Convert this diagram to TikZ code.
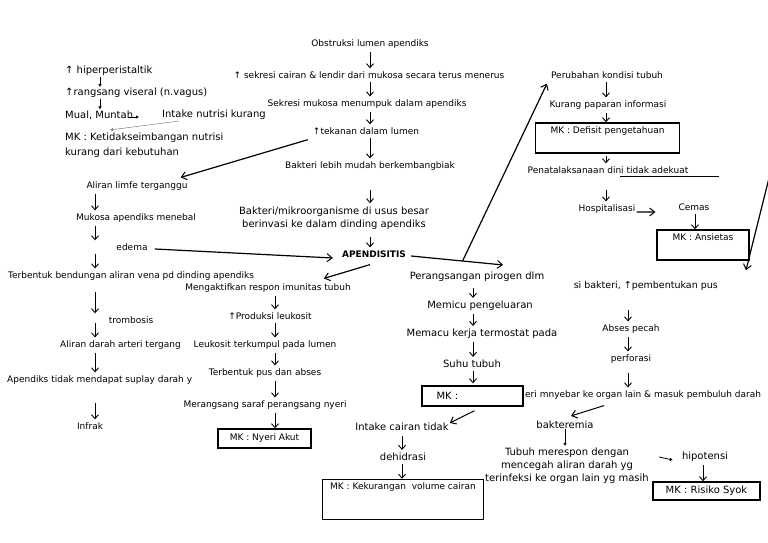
\documentclass[tikz,border=0pt]{standalone}
\usepackage{fontspec}
\setmainfont{DejaVu Sans}
\usetikzlibrary{arrows.meta}
\begin{document}
\begin{tikzpicture}[x=1bp,y=-1bp,
  txt/.style={inner sep=1bp, font=\fontsize{9bp}{13.5bp}\selectfont, align=center},
  big/.style={txt, font=\fontsize{10bp}{14bp}\selectfont},
  varr/.style={line width=0.9bp, shorten <=2bp, shorten >=2bp, -{Straight Barb[length=4bp,width=7bp,line width=0.9bp]}},
  sarr/.style={line width=0.5bp, -{Latex[length=3bp,width=3.5bp]}},
  larr/.style={line width=1.2bp, -{Straight Barb[length=5bp,width=8bp,line width=1bp]}},
  plain/.style={line width=1.2bp},
  mkbox/.style={draw, line width=1.4bp, inner sep=0pt, fill=white},
  lbl/.style={txt, anchor=north},
]
\fill[white] (0,0) rectangle (768,543);
\useasboundingbox (0,0) rectangle (768,543);

% arrow columns
\coordinate (cC) at (370,0);
\coordinate (cL) at (95,0);
\coordinate (cN) at (100,0);
\coordinate (cM) at (275,0);
\coordinate (cP) at (473,0);
\coordinate (cR) at (606,0);
\coordinate (cS) at (628,0);
\coordinate (cD) at (402,0);
\coordinate (cA) at (695,0);
\coordinate (cH) at (703,0);
\coordinate (cB) at (565,0);

% central column
\node[txt] (obs) at (370,44) {Obstruksi lumen apendiks};
\node[txt] (sek) at (369,75) {↑ sekresi cairan \& lendir dari mukosa secara terus menerus};
\node[txt] (sekm) at (367,104) {Sekresi mukosa menumpuk dalam apendiks};
\node[txt] (tek) at (366,131) {↑tekanan dalam lumen};
\node[txt] (bak) at (370,166) {Bakteri lebih mudah berkembangbiak};
\node[big, font=\fontsize{10bp}{13.5bp}\selectfont] (bakm) at (334,218) {Bakteri/mikroorganisme di usus besar\\berinvasi ke dalam dinding apendiks};
\node[txt, font=\fontsize{9bp}{13.5bp}\selectfont\bfseries] (ape) at (374,254) {APENDISITIS};

% upper left
\node[big, anchor=west] (hip) at (64,71) {↑ hiperperistaltik};
\node[big, anchor=west] (rang) at (64,93) {↑rangsang viseral (n.vagus)};
\node[big, anchor=west] (mual) at (64,115) {Mual, Muntah};
\node[big, anchor=west] (intn) at (161,115) {Intake nutrisi kurang};
\node[big, anchor=west, align=left, font=\fontsize{10bp}{15bp}\selectfont] (mkn) at (64,145.5) {MK : Ketidakseimbangan nutrisi\\kurang dari kebutuhan};

% left column
\node[txt] (limfe) at (137,186) {Aliran limfe terganggu};
\node[txt] (muk) at (136,218) {Mukosa apendiks menebal};
\node[txt] (edema) at (132,247) {edema};
\node[txt] (bend) at (131,276) {Terbentuk bendungan aliran vena pd dinding apendiks};
\node[txt] (trom) at (131,320) {trombosis};
\node[txt, anchor=west] (alir) at (59,345) {Aliran darah arteri tergang};
\node[txt, anchor=west] (apen) at (6,380) {Apendiks tidak mendapat suplay darah y};
\node[txt] (inf) at (90,426) {Infrak};

% middle column
\node[txt] (meng) at (268,288) {Mengaktifkan respon imunitas tubuh};
\node[txt] (prod) at (270,316) {↑Produksi leukosit};
\node[txt] (leuk) at (265,345) {Leukosit terkumpul pada lumen};
\node[txt] (pus) at (265,373) {Terbentuk pus dan abses};
\node[txt] (mer) at (265,405) {Merangsang saraf perangsang nyeri};
\node[mkbox, minimum width=93bp, minimum height=19bp, txt] (nyeri) at (264.5,438.5) {MK : Nyeri Akut};

% pirogen column
\node[big] (pir) at (477,277) {Perangsangan pirogen dlm};
\node[big] (memi) at (480,306) {Memicu pengeluaran};
\node[big] (memacu) at (482,334) {Memacu kerja termostat pada};
\node[big] (suhu) at (472,364) {Suhu tubuh};
\node[txt, anchor=west] (bakter) at (524,395) {eri mnyebar ke organ lain \& masuk pembuluh darah};
\node[mkbox, minimum width=101bp, minimum height=20bp,
  label={[big, anchor=west, xshift=14bp]west:MK :}] (mkb) at (472.5,396) {};
\node[big] (intc) at (402,427) {Intake cairan tidak};
\node[big] (dehid) at (403,457) {dehidrasi};
\node[mkbox, minimum width=161bp, minimum height=40bp,
  label={[lbl, yshift=-3bp]north:MK : Kekurangan\ \ volume cairan}] (kek) at (403,499.5) {};

% right column
\node[txt] (perub) at (607,75) {Perubahan kondisi tubuh};
\node[txt] (kur) at (608,105) {Kurang paparan informasi};
\node[mkbox, minimum width=144bp, minimum height=30bp,
  label={[lbl, yshift=-3bp]north:MK : Defisit pengetahuan}] (defb) at (607.5,138) {};
\node[txt] (pena) at (608,170) {Penatalaksanaan dini tidak adekuat};
\node[txt] (hosp) at (607,209) {Hospitalisasi};
\node[txt] (cemas) at (694,207) {Cemas};
\node[mkbox, minimum width=92bp, minimum height=30bp,
  label={[lbl, yshift=-3bp]north:MK : Ansietas}] (ansb) at (703,245) {};
\node[txt, font=\fontsize{9.5bp}{13.5bp}\selectfont, anchor=east] (pus2) at (719,286) {si bakteri, ↑pembentukan pus};
\node[txt] (abses) at (631,329) {Abses pecah};
\node[txt] (perf) at (631,359) {perforasi};
\node[big] (bakrem) at (565,425) {bakteremia};
\node[txt, font=\fontsize{10bp}{13bp}\selectfont] (tubuh) at (567,466) {Tubuh merespon dengan\\mencegah aliran darah yg\\terinfeksi ke organ lain yg masih};
\node[big] (hipo) at (705,457) {hipotensi};
\node[mkbox, minimum width=107bp, minimum height=18bp, big] (risb) at (706.5,491) {MK : Risiko Syok};
\coordinate (rtop) at (770,174);

% central arrows
\draw[varr] (obs.south -| cC) -- (sek.north -| cC);
\draw[varr] (sek.south -| cC) -- (sekm.north -| cC);
\draw[varr] (sekm.south -| cC) -- (tek.north -| cC);
\draw[varr] (tek.south -| cC) -- (bak.north -| cC);
\draw[varr, shorten <=18bp] (bak.south -| cC) -- (bakm.north -| cC);
\draw[varr, shorten <=6bp] (bakm.south -| cC) -- (ape.north -| cC);

% upper left arrows
\draw[sarr] (hip.south -| cN) -- (rang.north -| cN);
\draw[sarr] (rang.south -| cN) -- (mual.north -| cN);
\draw[sarr] ([xshift=-6bp,yshift=-2bp]mual.east) -- ([xshift=-22bp,yshift=-2bp]intn.west);
\draw[sarr, gray] ([xshift=18bp]intn.south west) -- ([xshift=46bp,yshift=2bp]mkn.north west);

% left column arrows
\draw[larr] ([xshift=-4bp,yshift=-4bp]tek.south west) -- ([xshift=-8bp,yshift=3bp]limfe.north east);
\draw[varr] (limfe.south -| cL) -- (muk.north -| cL);
\draw[varr] (muk.south -| cL) -- (edema.north -| cL);
\draw[varr] (edema.south -| cL) -- (bend.north -| cL);
\draw[varr, shorten <=10bp] (bend.south -| cL) -- (trom.north -| cL);
\draw[varr, shorten <=-2bp] (trom.south -| cL) -- (alir.north -| cL);
\draw[varr] (alir.south -| cL) -- (apen.north -| cL);
\draw[varr, shorten <=17bp] (apen.south -| cL) -- (inf.north -| cL);

% links from/to APENDISITIS
\draw[larr] ([xshift=6bp,yshift=-2bp]edema.east) -- ([xshift=-8bp,yshift=-4bp]ape.west);
\draw[larr] ([xshift=-4bp,yshift=-6bp]ape.south) -- ([xshift=-28bp,yshift=4bp]meng.north east);
\draw[larr] ([xshift=4bp,yshift=-2bp]ape.east) -- coordinate[pos=0.56] (jn) ([xshift=26bp,yshift=6bp]pir.north);
\draw[larr] (jn) -- ([xshift=-3bp,yshift=-4bp]perub.south west);

% middle column arrows
\draw[varr] (meng.south -| cM) -- (prod.north -| cM);
\draw[varr] (prod.south -| cM) -- (leuk.north -| cM);
\draw[varr] (leuk.south -| cM) -- (pus.north -| cM);
\draw[varr] (pus.south -| cM) -- (mer.north -| cM);
\draw[varr, shorten >=0bp] (mer.south -| cM) -- (nyeri.north -| cM);

% pirogen column arrows
\draw[varr, shorten <=5bp] (pir.south -| cP) -- (memi.north -| cP);
\draw[varr] (memi.south -| cP) -- (memacu.north -| cP);
\draw[varr] (memacu.south -| cP) -- (suhu.north -| cP);
\draw[varr] (suhu.south -| cP) -- (mkb.north -| cP);
\draw[larr, line width=1bp] ([xshift=2bp,yshift=-4bp]mkb.south) -- ([yshift=-1bp]intc.north east);
\draw[varr, shorten <=4bp] (intc.south -| cD) -- (dehid.north -| cD);
\draw[varr, shorten >=0bp] (dehid.south -| cD) -- (kek.north -| cD);

% right column arrows
\draw[varr] (perub.south -| cR) -- (kur.north -| cR);
\draw[varr, shorten >=0bp] (kur.south -| cR) -- (defb.north -| cR);
\draw[varr] (defb.south -| cR) -- (pena.north -| cR);
\draw[plain] ([xshift=12bp,yshift=-2bp]pena.south) -- ++(99,0);
\draw[varr, shorten <=15bp] (pena.south -| cR) -- (hosp.north -| cR);
\draw[larr] ([yshift=-3bp]hosp.east) -- ([xshift=-22bp,yshift=-5bp]cemas.west);
\draw[varr, shorten >=0bp] (cemas.south -| cA) -- (ansb.north -| cA);
\draw[larr] (rtop) -- ([xshift=27bp,yshift=10bp]pus2.north east);
\draw[varr, shorten <=18bp] (pus2.south -| cS) -- (abses.north -| cS);
\draw[varr] (abses.south -| cS) -- (perf.north -| cS);
\draw[varr, shorten <=8bp] (perf.south -| cS) -- (bakter.north -| cS);
\draw[larr, line width=1bp] ([xshift=-39bp,yshift=-5bp]bakter.south) -- ([xshift=6bp,yshift=4bp]bakrem.north);
\draw[sarr] ([yshift=1bp]bakrem.south -| cB) -- ([yshift=1bp]tubuh.north -| cB);
\draw[sarr, line width=0.8bp] ([xshift=9bp,yshift=-10bp]tubuh.north east) -- ([xshift=-8bp,yshift=-3bp]hipo.west);
\draw[varr, shorten >=0bp] (hipo.south -| cH) -- (risb.north -| cH);
\end{tikzpicture}
\end{document}
